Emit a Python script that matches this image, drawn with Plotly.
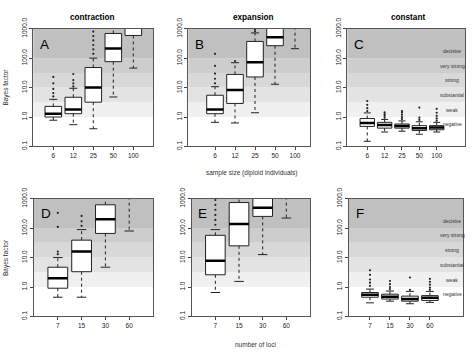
import math
import plotly.graph_objects as go

W, H = 474, 353

top_cats = ["6", "12", "25", "50", "100"]
bot_cats = ["7", "15", "30", "60"]
ytick_vals = [0.1, 1, 10, 100, 1000]
ytick_text = ["0.1", "1.0", "10.0", "100.0", "1000.0"]

band_edges = [1, 10 ** 0.5, 10, 10 ** 1.5, 100, 1000]
band_colors = ["#f0f0f0", "#e3e3e3", "#d8d8d8", "#cdcdcd", "#c0c0c0"]
band_labels = ["weak", "substantial", "strong", "very strong", "decisive", "negative"]
band_label_pos = [0.25, 0.75, 1.25, 1.75, 2.25, -0.25]

# ---- contraction, sample size (A)
A_q1 = [1.0, 1.3, 3.2, 76, 590]
A_med = [1.3, 1.8, 10, 213, 2000]
A_q3 = [2.3, 4.7, 48, 690, 5000]
A_lo = [0.78, 0.55, 0.4, 4.8, 46]
A_hi = [4.0, 9.5, 100, 3000, 5000]
A_out = [[5.0, 6.5, 9.0, 14, 23], [11, 14, 18, 29], [140, 200, 280, 400, 560, 800], [], []]

# ---- expansion, sample size (B)
B_q1 = [1.3, 2.9, 23, 265, 3000]
B_med = [1.8, 8.3, 72, 510, 5000]
B_q3 = [5.5, 28, 370, 3000, 8000]
B_lo = [0.66, 0.63, 1.4, 13, 210]
B_hi = [10.7, 70, 720, 5000, 8000]
B_out = [[14, 20, 30, 55, 140], [80], [820, 950], [], []]

# ---- constant, sample size (C)
C_q1 = [0.48, 0.42, 0.42, 0.35, 0.37]
C_med = [0.63, 0.54, 0.50, 0.42, 0.44]
C_q3 = [0.89, 0.66, 0.58, 0.51, 0.51]
C_lo = [0.15, 0.31, 0.33, 0.26, 0.31]
C_hi = [1.38, 0.83, 0.74, 0.69, 0.66]
C_out = [[1.6, 2.0, 2.6, 3.5], [0.95, 1.1, 1.25, 1.45], [0.85, 1.0, 1.2, 1.45, 1.6],
         [0.8, 0.95, 2.1], [0.75, 0.9, 1.1, 1.4, 1.9]]

# ---- contraction, loci (D)
D_q1 = [0.91, 3.3, 66, 3000]
D_med = [2.0, 16, 200, 5000]
D_q3 = [4.7, 39, 620, 8000]
D_lo = [0.45, 0.45, 4.7, 80]
D_hi = [10, 89, 3000, 8000]
D_out = [[13, 16, 110, 330], [120, 170, 260], [], []]

# ---- expansion, loci (E)
E_q1 = [2.6, 25, 250, 3000]
E_med = [7.8, 139, 490, 5000]
E_q3 = [57, 740, 3000, 8000]
E_lo = [0.65, 1.55, 12.6, 220]
E_hi = [89, 3000, 5000, 8000]
E_out = [[130, 190, 280, 420, 620, 900], [], [], []]

# ---- constant, loci (F)
F_q1 = [0.45, 0.39, 0.33, 0.35]
F_med = [0.55, 0.47, 0.39, 0.43]
F_q3 = [0.65, 0.57, 0.49, 0.51]
F_lo = [0.29, 0.33, 0.27, 0.30]
F_hi = [0.85, 0.73, 0.71, 0.71]
F_out = [[1.1, 1.4, 1.8, 2.6, 3.7], [0.85, 1.0, 1.25, 1.6], [0.8, 2.1], [0.8, 0.95, 1.2, 1.5, 1.9]]

panels = [
    dict(letter="A", cats=top_cats, q1=A_q1, med=A_med, q3=A_q3, lo=A_lo, hi=A_hi, out=A_out,
         px=(33.3, 153.3), py=(18.5, 141.5), xr=(0, 6), labels=False),
    dict(letter="B", cats=top_cats, q1=B_q1, med=B_med, q3=B_q3, lo=B_lo, hi=B_hi, out=B_out,
         px=(188.3, 310), py=(18.5, 141.5), xr=(-0.335, 5.75), labels=False),
    dict(letter="C", cats=top_cats, q1=C_q1, med=C_med, q3=C_q3, lo=C_lo, hi=C_hi, out=C_out,
         px=(347.3, 465), py=(18.5, 141.5), xr=(-0.15, 6.63), labels=True),
    dict(letter="D", cats=bot_cats, q1=D_q1, med=D_med, q3=D_q3, lo=D_lo, hi=D_hi, out=D_out,
         px=(34.0, 153.0), py=(196, 319), xr=(0, 5), labels=False),
    dict(letter="E", cats=bot_cats, q1=E_q1, med=E_med, q3=E_q3, lo=E_lo, hi=E_hi, out=E_out,
         px=(191.7, 310), py=(196, 319), xr=(0, 5), labels=False),
    dict(letter="F", cats=bot_cats, q1=F_q1, med=F_med, q3=F_q3, lo=F_lo, hi=F_hi, out=F_out,
         px=(349, 463.3), py=(196, 319), xr=(-0.05, 5.67), labels=True),
]

FONT = "Liberation Sans, Arial, sans-serif"
BOXW = 0.83
CAPW = 0.4

fig = go.Figure()
layout = dict(width=W, height=H, margin=dict(l=0, r=0, t=0, b=0),
              paper_bgcolor="white", plot_bgcolor="white", showlegend=False,
              hovermode=False, font=dict(family=FONT, color="#222"))
shapes = []
annotations = []

for k, p in enumerate(panels):
    n = k + 1
    sx = "" if n == 1 else str(n)
    xa, ya = "x" + sx, "y" + sx
    pos = list(range(1, len(p["cats"]) + 1))

    layout["xaxis" + sx] = dict(
        domain=[p["px"][0] / W, p["px"][1] / W], range=list(p["xr"]), anchor=ya,
        tickvals=pos, ticktext=p["cats"], ticks="outside", ticklen=3, tickwidth=1,
        tickcolor="#444", showline=True, mirror=True, linecolor="#555", linewidth=1,
        showgrid=False, zeroline=False, tickfont=dict(size=6.5, color="#222"))
    layout["yaxis" + sx] = dict(
        domain=[1 - p["py"][1] / H, 1 - p["py"][0] / H], type="log", range=[-1, 3],
        anchor=xa, tickvals=ytick_vals, ticktext=ytick_text, tickangle=-90,
        ticks="outside", ticklen=3, tickwidth=1, tickcolor="#444",
        showline=True, mirror=True, linecolor="#555", linewidth=1,
        showgrid=False, zeroline=False, tickfont=dict(size=6.5, color="#222"))

    # Jeffreys-scale background bands
    for i, c in enumerate(band_colors):
        shapes.append(dict(type="rect", xref=xa + " domain", yref=ya, x0=0, x1=1,
                           y0=band_edges[i], y1=band_edges[i + 1], fillcolor=c,
                           line=dict(width=0), layer="below"))

    # whiskers (dotted)
    wx, wy = [], []
    for i, x in enumerate(pos):
        wx += [x, x, None, x, x, None]
        wy += [p["q3"][i], p["hi"][i], None, p["q1"][i], p["lo"][i], None]
    fig.add_trace(go.Scatter(x=wx, y=wy, mode="lines", xaxis=xa, yaxis=ya,
                             line=dict(color="#222", width=1, dash="dot")))
    # caps
    cx, cy = [], []
    for i, x in enumerate(pos):
        for v in (p["lo"][i], p["hi"][i]):
            cx += [x - CAPW / 2, x + CAPW / 2, None]
            cy += [v, v, None]
    fig.add_trace(go.Scatter(x=cx, y=cy, mode="lines", xaxis=xa, yaxis=ya,
                             line=dict(color="#222", width=1)))
    # boxes
    fig.add_trace(go.Box(x=pos, q1=p["q1"], median=p["med"], q3=p["q3"],
                         lowerfence=p["q1"], upperfence=p["q3"], width=BOXW,
                         fillcolor="white", line=dict(color="#222", width=1),
                         boxpoints=False, whiskerwidth=0, xaxis=xa, yaxis=ya))
    # thick medians
    mx, my = [], []
    for i, x in enumerate(pos):
        mx += [x - BOXW / 2, x + BOXW / 2, None]
        my += [p["med"][i], p["med"][i], None]
    fig.add_trace(go.Scatter(x=mx, y=my, mode="lines", xaxis=xa, yaxis=ya,
                             line=dict(color="black", width=2.5)))
    # outliers
    ox, oy = [], []
    for i, x in enumerate(pos):
        for v in p["out"][i]:
            ox.append(x)
            oy.append(v)
    if ox:
        fig.add_trace(go.Scatter(x=ox, y=oy, mode="markers", xaxis=xa, yaxis=ya,
                                 marker=dict(color="#222", size=2.2, symbol="circle")))

    # panel letter
    annotations.append(dict(text=p["letter"], xref=xa + " domain", yref=ya + " domain",
                            x=0.04, y=0.87, xanchor="left", yanchor="middle",
                            showarrow=False, font=dict(size=13.5, color="black")))
    if p["labels"]:
        xc = (452 - p["px"][0]) / (p["px"][1] - p["px"][0])
        for lab, yv in zip(band_labels, band_label_pos):
            annotations.append(dict(text=lab, xref=xa + " domain", yref=ya + " domain",
                                    x=xc, y=(yv + 1) / 4.0,
                                    xanchor="center", yanchor="middle", showarrow=False,
                                    font=dict(size=5, color="#333")))

# column titles
for txt, xc in [("contraction", 92), ("expansion", 253), ("constant", 408)]:
    annotations.append(dict(text="<b>" + txt + "</b>", xref="paper", yref="paper",
                            x=xc / W, y=1 - 7 / H, xanchor="center", yanchor="middle",
                            showarrow=False, font=dict(size=8.2, color="black")))
# axis titles
annotations.append(dict(text="sample size (diploid individuals)", xref="paper", yref="paper",
                        x=252 / W, y=1 - 169 / H, xanchor="center", yanchor="middle",
                        showarrow=False, font=dict(size=6.5, color="#333")))
annotations.append(dict(text="number of loci", xref="paper", yref="paper",
                        x=255 / W, y=1 - 348 / H, xanchor="center", yanchor="middle",
                        showarrow=False, font=dict(size=6.5, color="#333")))
for yc in (80, 258):
    annotations.append(dict(text="Bayes factor", xref="paper", yref="paper",
                            x=6 / W, y=1 - yc / H, xanchor="center", yanchor="middle",
                            textangle=-90, showarrow=False, font=dict(size=6.5, color="#333")))

layout["shapes"] = shapes
layout["annotations"] = annotations
fig.update_layout(**layout)
fig.write_html("out.html")
